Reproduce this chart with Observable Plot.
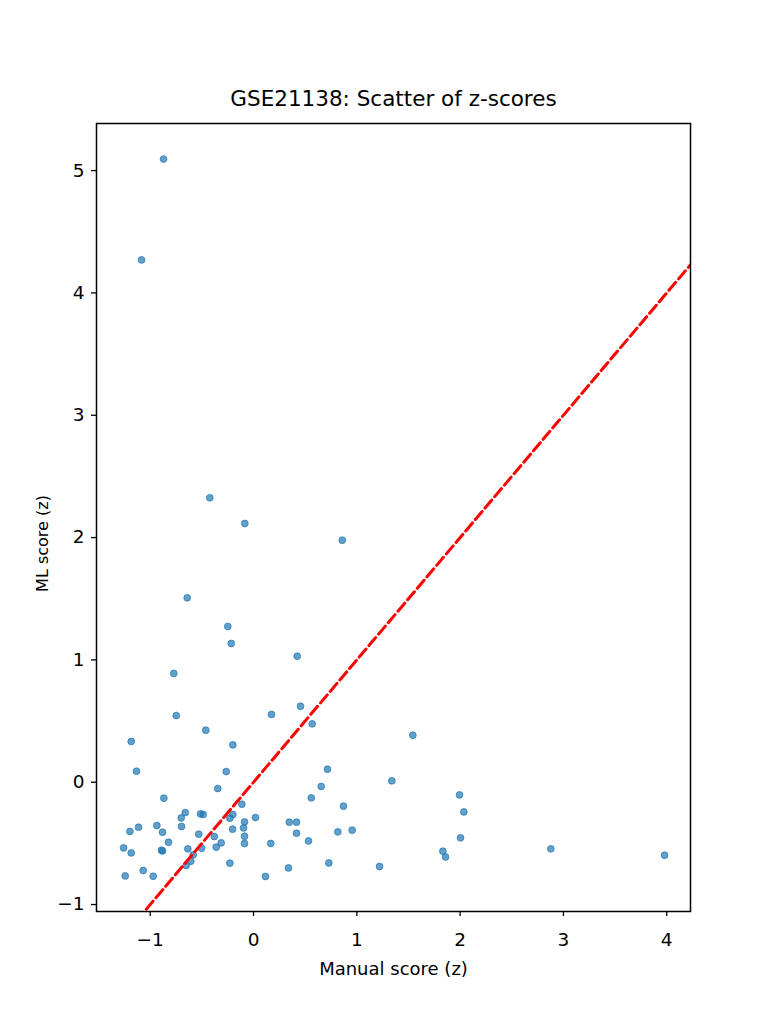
<!DOCTYPE html>
<html>
<head>
<meta charset="utf-8">
<script src="https://cdn.jsdelivr.net/npm/d3@7"></script>
<script src="https://cdn.jsdelivr.net/npm/@observablehq/plot@0.6"></script>
<style>
  html, body { margin: 0; padding: 0; background: #fff; }
  #chart svg { display: block; font-family: "DejaVu Sans", sans-serif; }
</style>
</head>
<body>
<div id="chart"></div>
<script>
const title = "GSE21138: Scatter of z-scores";
const xLabel = "Manual score (z)";
const yLabel = "ML score (z)";
const xTicks = [-1, 0, 1, 2, 3, 4];
const yTicks = [-1, 0, 1, 2, 3, 4, 5];

const manualZ = [
  -0.871, -1.084, -0.423, -0.084, 0.859, -0.642, -0.249, -0.216, 0.423, -0.772,
  -0.748, 0.174, -1.184, -0.462, -0.200, -1.133, -0.264, -0.346, -0.868, -0.113,
  -0.661, -0.700, -0.513, -0.487, -0.200, -0.229, 0.019, 0.346, 0.416, -0.697,
  -0.936, -1.113, -1.197, -0.881, -0.087, -0.097, -0.087, -0.087, -0.203, -0.530,
  -0.380, -0.313, -0.361, -0.823, -1.258, -1.184, -0.891, -0.881, -0.636, -0.503,
  -0.584, -0.607, -0.652, 0.167, -0.229, 0.339, 0.116, -1.068, -1.242, -0.971,
  0.455, 0.568, 1.542, 0.716, 1.339, 0.655, 0.559, 0.871, 0.416, 0.816,
  0.955, 0.532, 0.729, 1.220, 1.833, 1.859,
  1.994, 2.036, 2.004, 2.878, 3.979
];
const mlZ = [
  5.094, 4.270, 2.325, 2.115, 1.978, 1.507, 1.273, 1.134, 1.030, 0.889,
  0.545, 0.554, 0.333, 0.425, 0.305, 0.090, 0.087, -0.052, -0.131, -0.180,
  -0.248, -0.292, -0.259, -0.264, -0.264, -0.294, -0.289, -0.327, -0.327, -0.362,
  -0.354, -0.368, -0.403, -0.409, -0.325, -0.374, -0.442, -0.501, -0.384, -0.425,
  -0.444, -0.496, -0.531, -0.491, -0.537, -0.578, -0.556, -0.562, -0.545, -0.540,
  -0.594, -0.646, -0.681, -0.501, -0.662, -0.701, -0.771, -0.722, -0.766, -0.769,
  0.621, 0.477, 0.384, 0.106, 0.011, -0.035, -0.128, -0.196, -0.417, -0.406,
  -0.392, -0.480, -0.660, -0.689, -0.564, -0.611,
  -0.104, -0.243, -0.455, -0.545, -0.597
];
const identity = [-1.6, 4.4];

const points = manualZ.map((x, i) => ({x, y: mlZ[i]}));
const diag = identity.map(v => ({x: v, y: v}));

const chart = Plot.plot({
  width: 768,
  height: 1024,
  marginTop: 123,
  marginLeft: 96,
  marginRight: 78,
  marginBottom: 113,
  style: {fontFamily: "DejaVu Sans", fontSize: "18px", color: "black", background: "white"},
  x: {domain: [-1.52, 4.23]},
  y: {domain: [-1.057, 5.385]},
  marks: [
    Plot.dot(points, {x: "x", y: "y", r: 3.4, fill: "#1f77b4", fillOpacity: 0.7, stroke: "#1f77b4", strokeOpacity: 0.7, strokeWidth: 1}),
    Plot.line(diag, {x: "x", y: "y", stroke: "red", strokeWidth: 3, strokeDasharray: "10.5,4.5", clip: true}),
    Plot.frame({stroke: "black", strokeWidth: 1.5}),
    Plot.axisX(xTicks, {tickSize: 5, tickPadding: 16, fontSize: 18.5, label: null, tickFormat: d3.format("d"), stroke: "black", strokeWidth: 1.3}),
    Plot.axisY(yTicks, {tickSize: 5, tickPadding: 7, fontSize: 18.5, label: null, tickFormat: d3.format("d"), stroke: "black", strokeWidth: 1.3}),
    Plot.text([title], {frameAnchor: "top", dy: -33, fontSize: 21.5, fill: "black"}),
    Plot.text([xLabel], {frameAnchor: "bottom", dy: 63, fontSize: 18, fill: "black"}),
    Plot.text([yLabel], {frameAnchor: "left", textAnchor: "middle", dx: -54, dy: 26, rotate: -90, fontSize: 16, fill: "black"})
  ]
});
document.getElementById("chart").appendChild(chart);
</script>
</body>
</html>
